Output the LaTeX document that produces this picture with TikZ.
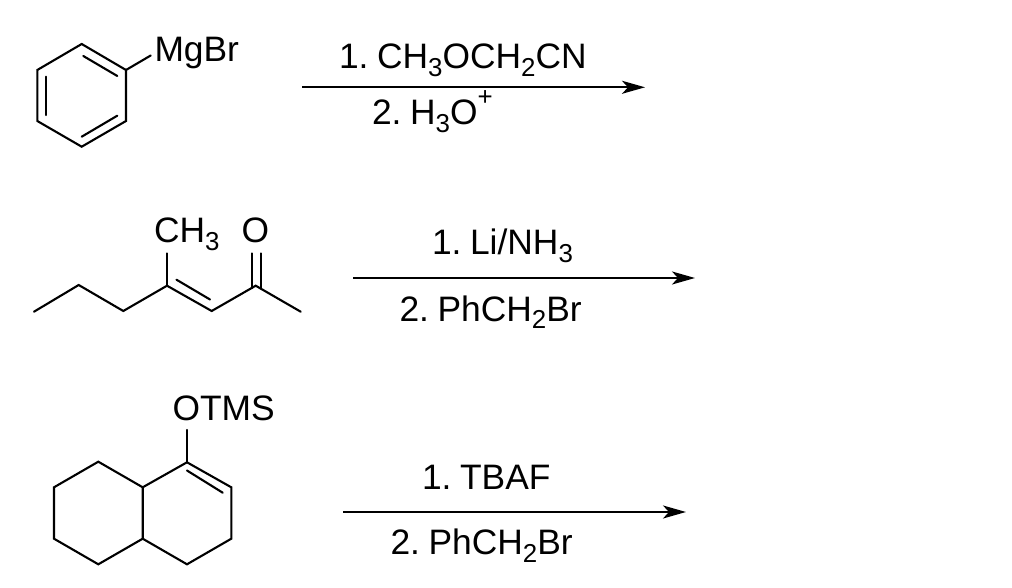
\documentclass[tikz,border=0pt]{standalone}
\usepackage{fontspec}
\setmainfont{Liberation Sans}
\usetikzlibrary{arrows.meta}
\newcommand{\chemsub}[1]{\raisebox{-0.22em}{\fontsize{26}{26}\selectfont #1}}
\newcommand{\chemsup}[1]{\raisebox{0.55em}{\fontsize{26}{26}\selectfont #1}}
\newcommand{\chemfont}{\fontsize{35.5}{35.5}\selectfont\spaceskip=0.15em\relax}
\tikzset{
  bond/.style={line width=2.1bp,line join=miter,line cap=round,black},
  rxnarrow/.style={line width=2.2bp,black,-{Stealth[length=23bp,width=13bp,inset=6bp]}},
  label/.style={anchor=base west,inner sep=0pt,outer sep=0pt,font=\chemfont,text=black}
}
\begin{document}
\begin{tikzpicture}[x=1bp,y=-1bp]
\useasboundingbox[fill=white] (0,0) rectangle (1012,588);
% benzene
\coordinate (b1) at (81.7,44);
\coordinate (b2) at (126,70);
\coordinate (b3) at (126,121);
\coordinate (b4) at (81.7,146.7);
\coordinate (b5) at (37.3,121);
\coordinate (b6) at (37.3,70);
\coordinate (bx) at (150.7,55.5);
\coordinate (bi1) at (83.3,56);
\coordinate (bi2) at (117.3,76);
\coordinate (bi3) at (46,76.7);
\coordinate (bi4) at (46,115);
\coordinate (bi5) at (81.7,136.7);
\coordinate (bi6) at (117.3,115.7);
\draw[bond] (b1)--(b2)--(b3)--(b4)--(b5)--(b6)--cycle;
\draw[bond] (b2)--(bx);
\draw[bond] (bi1)--(bi2);
\draw[bond] (bi3)--(bi4);
\draw[bond] (bi5)--(bi6);
\node[label] (mgbr) at (154.5,61.5) {MgBr};
% enone
\coordinate (c1) at (34,311.7);
\coordinate (c2) at (78.7,285);
\coordinate (c3) at (123.3,311);
\coordinate (c4) at (167,285.7);
\coordinate (c5) at (211.7,311);
\coordinate (c6) at (255.7,285.7);
\coordinate (c7) at (300.7,311.7);
\coordinate (cm) at (167,253.3);
\coordinate (ci1) at (176.5,279.7);
\coordinate (ci2) at (210,299.5);
\coordinate (co1) at (251.7,253.3);
\coordinate (co2) at (251.7,288);
\coordinate (co3) at (260.7,253.3);
\coordinate (co4) at (260.7,288.5);
\draw[bond] (c1)--(c2)--(c3)--(c4)--(c5)--(c6)--(c7);
\draw[bond] (c4)--(cm);
\draw[bond] (ci1)--(ci2);
\draw[bond] (co1)--(co2);
\draw[bond] (co3)--(co4);
\node[label] (ch3) at (154,242.5) {CH\chemsub{3}};
\node[label] (oxy) at (241.5,242.5) {O};
% decalin
\coordinate (d1) at (98.3,461.7);
\coordinate (d2) at (54,487.3);
\coordinate (d3) at (54,538.7);
\coordinate (d4) at (98.3,564.3);
\coordinate (d5) at (142.7,538.7);
\coordinate (d6) at (142.7,487.3);
\coordinate (d7) at (187,462.3);
\coordinate (d8) at (231.3,487.3);
\coordinate (d9) at (231.3,538.7);
\coordinate (d10) at (187,564.3);
\coordinate (dx) at (187,430);
\coordinate (di1) at (187,470.5);
\coordinate (di2) at (222.7,492.7);
\draw[bond] (d1)--(d2)--(d3)--(d4)--(d5)--(d6)--cycle;
\draw[bond] (d6)--(d7)--(d8)--(d9)--(d10)--(d5);
\draw[bond] (d7)--(dx);
\draw[bond] (di1)--(di2);
\node[label] (otms) at (172.5,420) {OTMS};
% arrows
\coordinate (a1s) at (302,87.3);
\coordinate (a1e) at (645,87.3);
\coordinate (a2s) at (353,278);
\coordinate (a2e) at (695,278);
\coordinate (a3s) at (343,512);
\coordinate (a3e) at (686,512);
\draw[rxnarrow] (a1s)--(a1e);
\draw[rxnarrow] (a2s)--(a2e);
\draw[rxnarrow] (a3s)--(a3e);
% reagents
\node[label] (r1a) at (339,69) {1. CH\chemsub{3}OCH\chemsub{2}CN};
\node[label] (r1b) at (372,125) {2. H\chemsub{3}O\chemsup{+}};
\node[label] (r2a) at (432,255) {1. Li/NH\chemsub{3}};
\node[label] (r2b) at (399.5,321) {2. PhCH\chemsub{2}Br};
\node[label] (r3a) at (422,489) {1. TBAF};
\node[label] (r3b) at (390.5,554.5) {2. PhCH\chemsub{2}Br};
\end{tikzpicture}
\end{document}
